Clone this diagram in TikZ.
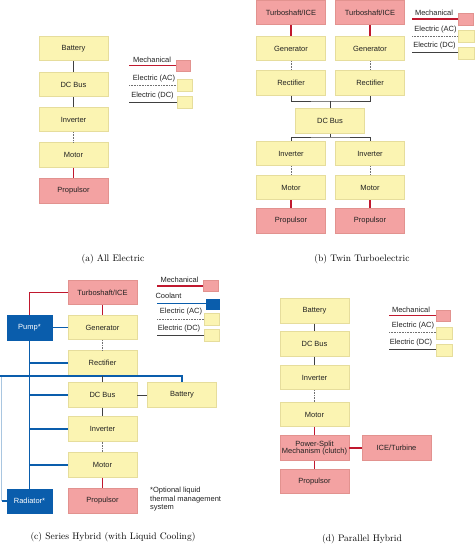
\documentclass[tikz,border=0pt]{standalone}
\usepackage{fontspec}
\setsansfont{Liberation Sans}
\definecolor{ylw}{HTML}{FBF4B2}
\definecolor{ylwb}{HTML}{E6DD9C}
\definecolor{pnk}{HTML}{F3A2A2}
\definecolor{pnkb}{HTML}{E2928F}
\definecolor{blu}{HTML}{0A5DAC}
\definecolor{lblu}{HTML}{A9C6E0}
\definecolor{redl}{HTML}{C0182E}
\definecolor{grl}{HTML}{404040}
\definecolor{gra}{HTML}{707070}
\definecolor{txt}{HTML}{222222}
\begin{document}
\begin{tikzpicture}[x=1pt,y=-1pt,
  every node/.style={font=\sffamily\fontsize{7.5}{8.6}\selectfont, text=txt},
  ybox/.style={draw=ylwb, fill=ylw, line width=0.7pt, minimum width=69pt, minimum height=24.5pt, inner sep=0pt, align=center},
  pbox/.style={draw=pnkb, fill=pnk, line width=0.7pt, minimum width=69pt, minimum height=24.5pt, inner sep=0pt, align=center},
  bbox/.style={draw=blu, fill=blu, minimum width=45pt, minimum height=24.5pt, inner sep=0pt, text=white},
  lyb/.style={draw=ylwb, fill=ylw, line width=0.6pt, minimum width=15pt, minimum height=12pt, inner sep=0pt},
  lpb/.style={draw=pnkb, fill=pnk, line width=0.6pt, minimum width=14pt, minimum height=11pt, inner sep=0pt},
  lbb/.style={draw=blu, fill=blu, minimum width=13pt, minimum height=10pt, inner sep=0pt},
  ltxt/.style={inner sep=0pt},
  mech/.style={draw=redl, line width=1.2pt},
  dcl/.style={draw=grl, line width=0.9pt},
  acl/.style={draw=gra, line width=0.9pt, dash pattern=on 0.8pt off 0.8pt},
  cool/.style={draw=blu, line width=1.3pt},
  capt/.style={font=\rmfamily\fontsize{9.5}{11}\selectfont, text=black, inner sep=0pt}
]
\useasboundingbox (0,0) rectangle (474,545);

% ---------- (a) All Electric ----------
\node[ybox] (aBat) at (73.5,48.5) {Battery};
\node[ybox] (aBus) at (73.5,84.5) {DC Bus};
\node[ybox] (aInv) at (73.5,119.5) {Inverter};
\node[ybox] (aMot) at (73.5,155) {Motor};
\node[pbox] (aPro) at (73.5,191) {Propulsor};
\draw[dcl] (aBat) -- (aBus);
\draw[dcl] (aBus) -- (aInv);
\draw[acl] (aInv) -- (aMot);
\draw[mech] (aMot) -- (aPro);
\node[capt] (aCap) at (113,259) {(a) All Electric};
% legend a
\node[lpb] (aLm) at (183.5,65.5) {};
\node[lyb] (aLac) at (184.5,85) {};
\node[lyb] (aLdc) at (184.5,102) {};
\coordinate (aLm0) at (129,65.5);
\coordinate (aLac0) at (129,85);
\coordinate (aLdc0) at (129,102);
\draw[mech] (aLm0) -- (aLm.west);
\draw[acl] (aLac0) -- (aLac.west);
\draw[dcl] (aLdc0) -- (aLdc.west);
\node[ltxt] (aTm) at (152,60) {Mechanical};
\node[ltxt] (aTac) at (154,79) {Electric (AC)};
\node[ltxt] (aTdc) at (152.5,95.5) {Electric (DC)};

% ---------- (b) Twin Turboelectric ----------
\node[pbox] (bT1) at (291,12.5) {Turboshaft/ICE};
\node[pbox] (bT2) at (370,12.5) {Turboshaft/ICE};
\node[ybox] (bG1) at (291,48.5) {Generator};
\node[ybox] (bG2) at (370,48.5) {Generator};
\node[ybox] (bR1) at (291,83) {Rectifier};
\node[ybox] (bR2) at (370,83) {Rectifier};
\node[ybox] (bBus) at (330,121) {DC Bus};
\node[ybox] (bI1) at (291,153.5) {Inverter};
\node[ybox] (bI2) at (370,153.5) {Inverter};
\node[ybox] (bM1) at (291,187.5) {Motor};
\node[ybox] (bM2) at (370,187.5) {Motor};
\node[pbox] (bP1) at (291,221) {Propulsor};
\node[pbox] (bP2) at (370,221) {Propulsor};
\draw[mech] (bT1) -- (bG1);
\draw[mech] (bT2) -- (bG2);
\draw[acl] (bG1) -- (bR1);
\draw[acl] (bG2) -- (bR2);
\coordinate (bJ1) at (330,101);
\coordinate (bJ2) at (330,137);
\draw[dcl] (bR1.south) |- (bJ1) -| (bR2.south);
\draw[dcl] (bJ1) -- (bBus.north);
\draw[dcl] (bI1.north) |- (bJ2) -| (bI2.north);
\draw[dcl] (bBus.south) -- (bJ2);
\draw[acl] (bI1) -- (bM1);
\draw[acl] (bI2) -- (bM2);
\draw[mech] (bM1) -- (bP1);
\draw[mech] (bM2) -- (bP2);
\node[capt] (bCap) at (362,259) {(b) Twin Turboelectric};
% legend b
\node[lpb, minimum width=15pt, minimum height=12pt] (bLm) at (465.5,19) {};
\node[lyb, minimum width=16pt] (bLac) at (466,36.5) {};
\node[lyb, minimum width=16pt] (bLdc) at (466,53) {};
\coordinate (bLm0) at (412,19);
\coordinate (bLac0) at (412,36);
\coordinate (bLdc0) at (412,52.5);
\draw[mech] (bLm0) -- (bLm.west);
\draw[acl] (bLac0) -- (bLac0 -| bLac.west);
\draw[dcl] (bLdc0) -- (bLdc0 -| bLdc.west);
\node[ltxt] (bTm) at (434,13) {Mechanical};
\node[ltxt] (bTac) at (435.5,29.5) {Electric (AC)};
\node[ltxt] (bTdc) at (434.5,46) {Electric (DC)};

% ---------- (c) Series Hybrid ----------
\node[pbox] (cTur) at (102.5,292.5) {Turboshaft/ICE};
\node[ybox] (cGen) at (102.5,327.5) {Generator};
\node[ybox] (cRec) at (102.5,363) {Rectifier};
\node[ybox] (cBus) at (102.5,395) {DC Bus};
\node[ybox] (cBat) at (182,395) {Battery};
\node[ybox] (cInv) at (102.5,429) {Inverter};
\node[ybox] (cMot) at (102.5,465) {Motor};
\node[pbox] (cPro) at (102.5,501) {Propulsor};
\node[bbox] (cPump) at (29.5,327.5) {Pump*};
\node[bbox] (cRad) at (29.5,501) {Radiator*};
% coolant
\coordinate (cL1) at (1.5,501);
\coordinate (cL2) at (1.5,376);
\coordinate (cL3) at (182,376);
\draw[draw=lblu, line width=1.4pt] (cL1) -- (cL2);
\draw[cool] (cRad.west) -- (cL1);
\draw[cool] (0,376) -- (cL3) -- (cBat.north);
\draw[cool] (cPump.south) -- (cRad.north);
\draw[cool] (cPump.east) -- (cGen.west);
\draw[cool] (cPump.south |- cRec.west) -- (cRec.west);
\draw[cool] (cPump.south |- cBus.west) -- (cBus.west);
\draw[cool] (cPump.south |- cInv.west) -- (cInv.west);
\draw[cool] (cPump.south |- cMot.west) -- (cMot.west);
\draw[mech] (cPump.north) |- (cTur.west);
% power path
\draw[mech] (cTur) -- (cGen);
\draw[acl] (cGen) -- (cRec);
\draw[dcl] (cRec) -- (cBus);
\draw[dcl] (cBus) -- (cBat);
\draw[dcl] (cBus) -- (cInv);
\draw[acl] (cInv) -- (cMot);
\draw[mech] (cMot) -- (cPro);
\node[ltxt, anchor=north west, align=left] (cNote) at (150,487) {*Optional liquid\\thermal management\\system};
\node[capt] (cCap) at (113,537) {(c) Series Hybrid (with Liquid Cooling)};
% legend c
\node[lpb, minimum width=15pt] (cLm) at (210.5,286) {};
\node[lbb] (cLc) at (212.5,304) {};
\node[lyb] (cLac) at (211.5,319) {};
\node[lyb] (cLdc) at (211.5,335) {};
\coordinate (cLm0) at (157,286);
\coordinate (cLc0) at (157,303.5);
\coordinate (cLac0) at (157,319);
\coordinate (cLdc0) at (157,335);
\draw[mech] (cLm0) -- (cLm.west);
\draw[cool] (cLc0) -- (cLc0 -| cLc.west);
\draw[acl] (cLac0) -- (cLac.west);
\draw[dcl] (cLdc0) -- (cLdc.west);
\node[ltxt] (cTm) at (179.5,280) {Mechanical};
\node[ltxt] (cTc) at (168.5,295.5) {Coolant};
\node[ltxt] (cTac) at (181,312) {Electric (AC)};
\node[ltxt] (cTdc) at (179,328.5) {Electric (DC)};

% ---------- (d) Parallel Hybrid ----------
\node[ybox] (dBat) at (314.5,311) {Battery};
\node[ybox] (dBus) at (314.5,344) {DC Bus};
\node[ybox] (dInv) at (314.5,377.5) {Inverter};
\node[ybox] (dMot) at (314.5,414.5) {Motor};
\node[pbox] (dPS) at (314.5,448) {Power-Split\\[-1pt]Mechanism (clutch)};
\node[pbox] (dPro) at (314.5,481.5) {Propulsor};
\node[pbox] (dICE) at (396.5,448) {ICE/Turbine};
\draw[dcl] (dBat) -- (dBus);
\draw[dcl] (dBus) -- (dInv);
\draw[acl] (dInv) -- (dMot);
\draw[mech] (dMot) -- (dPS);
\draw[mech] (dPS) -- (dPro);
\draw[mech] (dPS) -- (dICE);
\node[capt] (dCap) at (362,539) {(d) Parallel Hybrid};
% legend d
\node[lpb] (dLm) at (443,315.5) {};
\node[lyb, minimum width=16pt] (dLac) at (444,333) {};
\node[lyb, minimum width=16pt] (dLdc) at (444,350) {};
\coordinate (dLm0) at (389,315.5);
\coordinate (dLac0) at (389,332);
\coordinate (dLdc0) at (389,349);
\draw[mech] (dLm0) -- (dLm.west);
\draw[acl] (dLac0) -- (dLac0 -| dLac.west);
\draw[dcl] (dLdc0) -- (dLdc0 -| dLdc.west);
\node[ltxt] (dTm) at (411,310) {Mechanical};
\node[ltxt] (dTac) at (413,326) {Electric (AC)};
\node[ltxt] (dTdc) at (411,343) {Electric (DC)};
\end{tikzpicture}
\end{document}
